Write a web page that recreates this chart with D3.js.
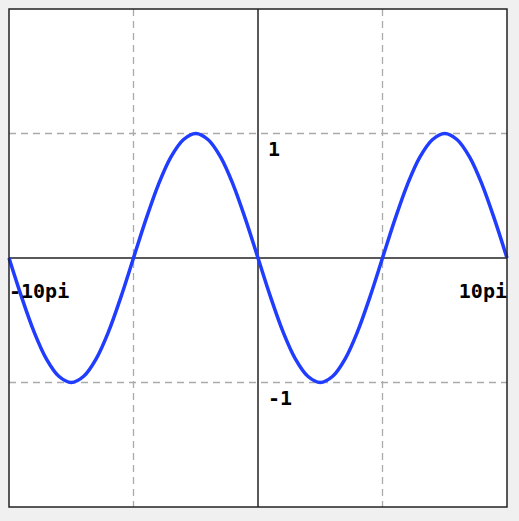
<!DOCTYPE html><html><head><script src="https://cdn.jsdelivr.net/npm/d3@7"></script>
<style>body{margin:0;background:#f0f0f0}</style></head><body><svg width="519" height="521"></svg><script>
const xTickLabels=["-10pi","10pi"];
const yTickLabels=["1","-1"];
// samples of the plotted curve across x in [-10pi,10pi] (41 points, step pi/2)
const curveY=[0,-0.31,-0.59,-0.81,-0.95,-1,-0.95,-0.81,-0.59,-0.31,0,0.31,0.59,0.81,0.95,1,0.95,0.81,0.59,0.31,0,-0.31,-0.59,-0.81,-0.95,-1,-0.95,-0.81,-0.59,-0.31,0,0.31,0.59,0.81,0.95,1,0.95,0.81,0.59,0.31,0];
const PI=Math.PI;
const svg=d3.select("svg");
const L=9,R=507,T=9,B=507;
const x=d3.scaleLinear().domain([-10*PI,10*PI]).range([L,R]);
const y=d3.scaleLinear().domain([-2,2]).range([B,T]);
svg.append("rect").attr("x",L).attr("y",T).attr("width",R-L).attr("height",B-T).attr("fill","#fff");
const g=svg.append("g");
[-5*PI,5*PI].forEach(v=>g.append("line").attr("x1",x(v)).attr("x2",x(v)).attr("y1",T).attr("y2",B).attr("stroke","#aaa").attr("stroke-width",1.3).attr("stroke-dasharray","7,5"));
[-1,1].forEach(v=>g.append("line").attr("y1",y(v)).attr("y2",y(v)).attr("x1",L).attr("x2",R).attr("stroke","#aaa").attr("stroke-width",1.3).attr("stroke-dasharray","7,5"));
g.append("line").attr("x1",x(0)).attr("x2",x(0)).attr("y1",T).attr("y2",B).attr("stroke","#222").attr("stroke-width",1.5);
g.append("line").attr("y1",y(0)).attr("y2",y(0)).attr("x1",L).attr("x2",R).attr("stroke","#222").attr("stroke-width",1.5);
const pts=curveY.map((v,i)=>[-10*PI+i*PI/2,v]);
svg.append("path").datum(pts).attr("d",d3.line().x(d=>x(d[0])).y(d=>y(d[1])).curve(d3.curveCatmullRom)).attr("fill","none").attr("stroke","#1f3cff").attr("stroke-width",3.5);
svg.append("rect").attr("x",L).attr("y",T).attr("width",R-L).attr("height",B-T).attr("fill","none").attr("stroke","#222").attr("stroke-width",1.5);
const tf={"font-family":"DejaVu Sans Mono","font-weight":"bold","font-size":"20px"};
function txt(s,px,py,anchor){const t=svg.append("text").text(s).attr("x",px).attr("y",py).attr("text-anchor",anchor);for(const k in tf)t.attr(k,tf[k]);}
txt(xTickLabels[0],L,y(0)+40,"start");
txt(xTickLabels[1],R,y(0)+40,"end");
txt(yTickLabels[0],x(0)+10,y(1)+22,"start");
txt(yTickLabels[1],x(0)+10,y(-1)+22,"start");
</script></body></html>
